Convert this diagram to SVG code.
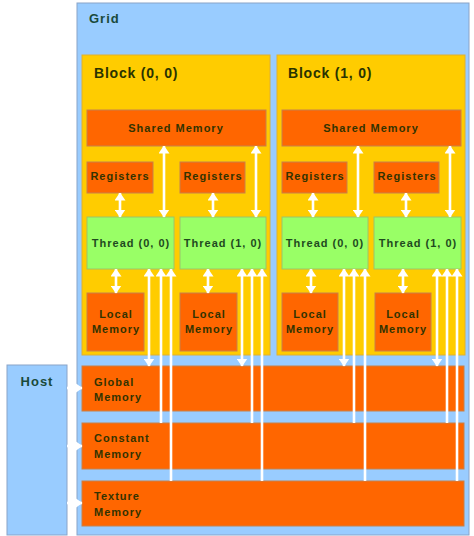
<svg xmlns="http://www.w3.org/2000/svg" width="474" height="536" viewBox="0 0 474 536">
<defs>
<style>
.grid{fill:#99CCFF;stroke:#8AA4C8;stroke-width:1}
.host{fill:#99CCFF;stroke:#8AA4C8;stroke-width:1}
.block{fill:#FFCC00;stroke:#E0B030;stroke-width:1}
.mem{fill:#FF6600;stroke:#C8804A;stroke-width:1}
.thr{fill:#99FF66;stroke:#9CC46A;stroke-width:1}
text{font-family:"Liberation Sans",Arial,sans-serif;font-weight:bold}
.t11{font-size:11px;letter-spacing:1px;fill:#333300}
.tc{text-anchor:middle}
.tthr{font-size:11px;letter-spacing:1px;fill:#1F4A1F;text-anchor:middle}
.tblk{font-size:14px;letter-spacing:0.8px;fill:#2A3300}
.tgrid{font-size:13px;letter-spacing:1px;fill:#1A4A3A}
.c{stroke:#FFFFFF;stroke-width:2.6;fill:none}
</style>
<marker id="ah" viewBox="0 0 8 11" refX="7.5" refY="5.5" markerWidth="8" markerHeight="11" markerUnits="userSpaceOnUse" orient="auto-start-reverse">
<path d="M0,0 L8,5.5 L0,11 Z" fill="#FFFFFF"/>
</marker>
</defs>

<g id="grid">
<rect class="grid" x="77" y="3" width="392" height="532"/>
<text class="tgrid" x="89" y="23">Grid</text>
</g>

<g id="host">
<rect class="host" x="7" y="365" width="60" height="170"/>
<text class="tgrid tc" x="37" y="386">Host</text>
</g>

<g id="block00">
<rect class="block" x="82" y="55" width="188" height="300"/>
<text class="tblk" x="94" y="78">Block (0, 0)</text>
</g>
<g id="block10">
<rect class="block" x="277" y="55" width="188" height="300"/>
<text class="tblk" x="288" y="78">Block (1, 0)</text>
</g>

<g id="shared00">
<rect class="mem" x="87" y="110" width="179" height="36"/>
<text class="t11 tc" x="176" y="132">Shared Memory</text>
</g>
<g id="shared10">
<rect class="mem" x="282" y="110" width="179" height="36"/>
<text class="t11 tc" x="371" y="132">Shared Memory</text>
</g>

<g id="reg00a">
<rect class="mem" x="87" y="162" width="66" height="31"/>
<text class="t11 tc" x="120" y="180">Registers</text>
</g>
<g id="reg00b">
<rect class="mem" x="180" y="162" width="65" height="31"/>
<text class="t11 tc" x="213" y="180">Registers</text>
</g>
<g id="reg10a">
<rect class="mem" x="282" y="162" width="65" height="31"/>
<text class="t11 tc" x="315" y="180">Registers</text>
</g>
<g id="reg10b">
<rect class="mem" x="374" y="162" width="65" height="31"/>
<text class="t11 tc" x="407" y="180">Registers</text>
</g>

<g id="thread00a">
<rect class="thr" x="87" y="217" width="87" height="52"/>
<text class="tthr" x="131" y="247">Thread (0, 0)</text>
</g>
<g id="thread00b">
<rect class="thr" x="180" y="217" width="86" height="52"/>
<text class="tthr" x="223" y="247">Thread (1, 0)</text>
</g>
<g id="thread10a">
<rect class="thr" x="282" y="217" width="86" height="52"/>
<text class="tthr" x="325" y="247">Thread (0, 0)</text>
</g>
<g id="thread10b">
<rect class="thr" x="374" y="217" width="87" height="52"/>
<text class="tthr" x="418" y="247">Thread (1, 0)</text>
</g>

<g id="local00a">
<rect class="mem" x="87" y="293" width="57" height="58"/>
<text class="t11 tc" x="116" y="318">Local</text>
<text class="t11 tc" x="116" y="333">Memory</text>
</g>
<g id="local00b">
<rect class="mem" x="180" y="293" width="57" height="58"/>
<text class="t11 tc" x="209" y="318">Local</text>
<text class="t11 tc" x="209" y="333">Memory</text>
</g>
<g id="local10a">
<rect class="mem" x="282" y="293" width="56" height="58"/>
<text class="t11 tc" x="310" y="318">Local</text>
<text class="t11 tc" x="310" y="333">Memory</text>
</g>
<g id="local10b">
<rect class="mem" x="375" y="293" width="56" height="58"/>
<text class="t11 tc" x="403" y="318">Local</text>
<text class="t11 tc" x="403" y="333">Memory</text>
</g>

<g id="global">
<rect class="mem" x="82" y="366" width="382" height="45"/>
<text class="t11" x="94" y="386">Global</text>
<text class="t11" x="94" y="401">Memory</text>
</g>
<g id="constant">
<rect class="mem" x="82" y="423" width="382" height="46"/>
<text class="t11" x="94" y="442">Constant</text>
<text class="t11" x="94" y="458">Memory</text>
</g>
<g id="texture">
<rect class="mem" x="82" y="481" width="382" height="45"/>
<text class="t11" x="94" y="500">Texture</text>
<text class="t11" x="94" y="516">Memory</text>
</g>

<g id="connectors">
<line class="c" x1="164" y1="146" x2="164" y2="217" marker-start="url(#ah)" marker-end="url(#ah)"/>
<line class="c" x1="256" y1="146" x2="256" y2="217" marker-start="url(#ah)" marker-end="url(#ah)"/>
<line class="c" x1="358" y1="146" x2="358" y2="217" marker-start="url(#ah)" marker-end="url(#ah)"/>
<line class="c" x1="450" y1="146" x2="450" y2="217" marker-start="url(#ah)" marker-end="url(#ah)"/>
<line class="c" x1="120" y1="193" x2="120" y2="217" marker-start="url(#ah)" marker-end="url(#ah)"/>
<line class="c" x1="213" y1="193" x2="213" y2="217" marker-start="url(#ah)" marker-end="url(#ah)"/>
<line class="c" x1="313" y1="193" x2="313" y2="217" marker-start="url(#ah)" marker-end="url(#ah)"/>
<line class="c" x1="406" y1="193" x2="406" y2="217" marker-start="url(#ah)" marker-end="url(#ah)"/>
<line class="c" x1="116" y1="269" x2="116" y2="293" marker-start="url(#ah)" marker-end="url(#ah)"/>
<line class="c" x1="208" y1="269" x2="208" y2="293" marker-start="url(#ah)" marker-end="url(#ah)"/>
<line class="c" x1="311" y1="269" x2="311" y2="293" marker-start="url(#ah)" marker-end="url(#ah)"/>
<line class="c" x1="403" y1="269" x2="403" y2="293" marker-start="url(#ah)" marker-end="url(#ah)"/>
<line class="c" x1="149" y1="269" x2="149" y2="366" marker-start="url(#ah)" marker-end="url(#ah)"/>
<line class="c" x1="242" y1="269" x2="242" y2="366" marker-start="url(#ah)" marker-end="url(#ah)"/>
<line class="c" x1="344" y1="269" x2="344" y2="366" marker-start="url(#ah)" marker-end="url(#ah)"/>
<line class="c" x1="437" y1="269" x2="437" y2="366" marker-start="url(#ah)" marker-end="url(#ah)"/>
<line class="c" x1="161" y1="423" x2="161" y2="269" marker-end="url(#ah)"/>
<line class="c" x1="252" y1="423" x2="252" y2="269" marker-end="url(#ah)"/>
<line class="c" x1="354" y1="423" x2="354" y2="269" marker-end="url(#ah)"/>
<line class="c" x1="447" y1="423" x2="447" y2="269" marker-end="url(#ah)"/>
<line class="c" x1="171" y1="481" x2="171" y2="269" marker-end="url(#ah)"/>
<line class="c" x1="262" y1="481" x2="262" y2="269" marker-end="url(#ah)"/>
<line class="c" x1="365" y1="481" x2="365" y2="269" marker-end="url(#ah)"/>
<line class="c" x1="457" y1="481" x2="457" y2="269" marker-end="url(#ah)"/>
<line class="c" x1="67" y1="388" x2="82" y2="388" marker-end="url(#ah)"/>
<line class="c" x1="67" y1="446" x2="82" y2="446" marker-end="url(#ah)"/>
<line class="c" x1="67" y1="503" x2="82" y2="503" marker-end="url(#ah)"/>
</g>
</svg>
